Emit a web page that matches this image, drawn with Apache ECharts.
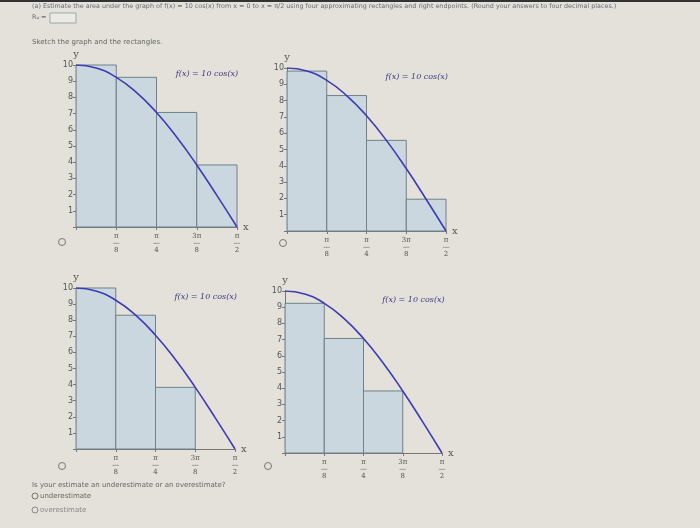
<!DOCTYPE html>
<html><head><meta charset="utf-8">
<script src="https://cdn.jsdelivr.net/npm/echarts@6/dist/echarts.min.js"></script>
<style>html,body{margin:0;background:#e3e1d9}#c{width:700px;height:528px}</style>
</head><body><div id="c"></div>
<script>
var PI = Math.PI;
// curve samples of f(x)=10cos(x) at multiples of pi/16
var curveX = [0, PI/16, PI/8, 3*PI/16, PI/4, 5*PI/16, 3*PI/8, 7*PI/16, PI/2];
var curveY = [10, 9.81, 9.24, 8.31, 7.07, 5.56, 3.83, 1.95, 0];
// rectangle start positions and heights for each panel
var rectStarts = [0, PI/8, PI/4, 3*PI/8];
var rectsTL = [10, 9.24, 7.07, 3.83];
var rectsTR = [9.81, 8.31, 5.56, 1.95];
var rectsBL = [10, 8.31, 3.83];
var rectsBR = [9.24, 7.07, 3.83];
var xTickLabels = ['', 'π\n—\n8', 'π\n—\n4', '3π\n—\n8', 'π\n—\n2'];

var panels = [
  {rects: rectsTL, left: 76, top: 65, w: 161, h: 162},
  {rects: rectsTR, left: 287, top: 68, w: 159, h: 163},
  {rects: rectsBL, left: 76, top: 288, w: 159, h: 161},
  {rects: rectsBR, left: 285, top: 291, w: 157, h: 162}
];

var grid = [], xAxis = [], yAxis = [], series = [], graphic = [];
var ink = '#555';
panels.forEach(function(p, i){
  grid.push({left: p.left, top: p.top, width: p.w, height: p.h});
  xAxis.push({type: 'value', gridIndex: i, min: 0, max: PI/2, interval: PI/8,
    name: 'x', nameGap: 6, nameTextStyle: {color: ink, fontSize: 10, fontFamily: 'DejaVu Serif', padding: [0,0,12,0]},
    axisLine: {lineStyle: {color: '#777'}}, axisTick: {show: true, length: 3, lineStyle: {color: '#777'}},
    splitLine: {show: false},
    axisLabel: {color: ink, fontSize: 7, lineHeight: 7, fontFamily: 'DejaVu Serif', margin: 6,
      formatter: function(v){ return xTickLabels[Math.round(v/(PI/8))]; }}});
  yAxis.push({type: 'value', gridIndex: i, min: 0, max: 10, interval: 1,
    name: 'y', nameGap: 6, nameTextStyle: {color: ink, fontSize: 10, fontFamily: 'DejaVu Serif'},
    axisLine: {show: true, lineStyle: {color: '#777'}}, axisTick: {show: true, length: 3, lineStyle: {color: '#777'}},
    splitLine: {show: false},
    axisLabel: {color: ink, fontSize: 8, margin: 3, fontFamily: 'DejaVu Sans',
      formatter: function(v){ return v === 0 ? '' : v; }}});
  series.push({type: 'custom', xAxisIndex: i, yAxisIndex: i,
    data: p.rects.map(function(h, k){ return [rectStarts[k], h]; }),
    renderItem: function(params, api){
      var x0 = api.value(0), hgt = api.value(1);
      var a = api.coord([x0, hgt]), b = api.coord([x0 + PI/8, 0]);
      return {type: 'rect', shape: {x: a[0], y: a[1], width: b[0]-a[0], height: b[1]-a[1]},
        style: {fill: 'rgba(196,213,224,0.8)', stroke: '#6d828c', lineWidth: 1}};
    }, z: 2});
  series.push({type: 'line', xAxisIndex: i, yAxisIndex: i, smooth: true, symbol: 'none',
    data: curveX.map(function(x, k){ return [x, curveY[k]]; }),
    lineStyle: {color: '#3c3cb4', width: 1.6}, z: 3});
  graphic.push({type: 'text', left: p.left + p.w*0.62, top: p.top + 5,
    style: {text: 'f(x) = 10 cos(x)', fill: '#3a3a80', fontSize: 8, fontFamily: 'DejaVu Serif', fontStyle: 'italic'}});
});
[[62,242],[283,243],[62,466],[268,466]].forEach(function(c){
  graphic.push({type: 'circle', shape: {cx: c[0], cy: c[1], r: 3.5}, style: {fill: 'none', stroke: '#777', lineWidth: 1}});
});
var txt = function(x, y, s, size, col){ return {type: 'text', left: x, top: y, style: {text: s, fill: col || '#666', fontSize: size || 7, fontFamily: 'DejaVu Sans'}}; };
graphic.push(txt(32, 3, '(a) Estimate the area under the graph of f(x) = 10 cos(x) from x = 0 to x = π/2 using four approximating rectangles and right endpoints. (Round your answers to four decimal places.)', 6.4, '#6a6a78'));
graphic.push(txt(32, 14, 'R₄ =', 6.4, '#6a6a78'));
graphic.push({type: 'rect', shape: {x: 50, y: 13, width: 26, height: 10}, style: {fill: '#eceae4', stroke: '#9aa'}});
graphic.push(txt(32, 39, 'Sketch the graph and the rectangles.', 7));
graphic.push(txt(32, 482, 'Is your estimate an underestimate or an overestimate?', 7));
graphic.push(txt(40, 493, 'underestimate', 7));
graphic.push(txt(40, 507, 'overestimate', 7, '#888'));
graphic.push({type: 'circle', shape: {cx: 35, cy: 496, r: 3}, style: {fill: 'none', stroke: '#777'}});
graphic.push({type: 'circle', shape: {cx: 35, cy: 510, r: 3}, style: {fill: 'none', stroke: '#888'}});
graphic.push({type: 'rect', shape: {x: 0, y: 0, width: 700, height: 2}, style: {fill: '#333'}});

var chart = echarts.init(document.getElementById('c'));
chart.setOption({backgroundColor: '#e3e1d9', animation: false, grid: grid, xAxis: xAxis, yAxis: yAxis, series: series, graphic: graphic});
</script></body></html>
